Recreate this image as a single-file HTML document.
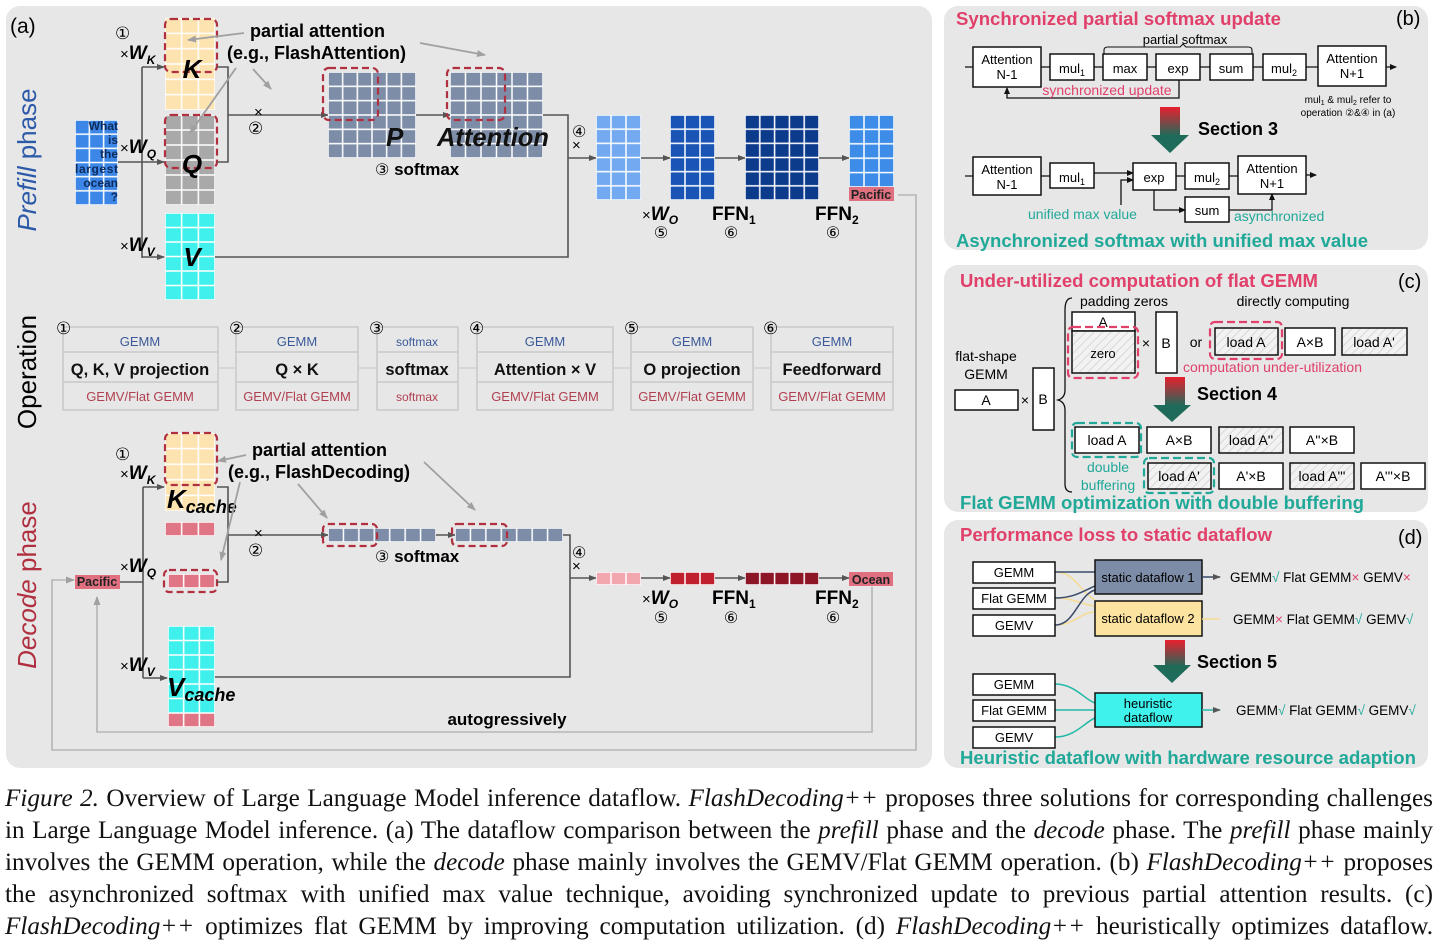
<!DOCTYPE html>
<html><head><meta charset="utf-8"><style>
body{margin:0;background:#fff;width:1440px;height:946px;overflow:hidden;position:relative;font-family:"Liberation Sans",sans-serif}
svg{position:absolute;left:0;top:0}
.cap{position:absolute;left:5px;top:783px;width:1428px;font-family:"Liberation Serif",serif;font-size:25.2px;line-height:32px;color:#111}
.cap div{white-space:nowrap;text-align:justify;text-align-last:justify;width:1428px}
</style></head><body>
<svg width="1440" height="780" viewBox="0 0 1440 780" font-family="Liberation Sans, sans-serif">
<defs>
<marker id="ar" markerWidth="8" markerHeight="8" refX="7" refY="4" orient="auto" markerUnits="userSpaceOnUse"><path d="M0,1 L8,4 L0,7z" fill="#555"/></marker>
<marker id="ak" markerWidth="7" markerHeight="7" refX="6" refY="3.5" orient="auto" markerUnits="userSpaceOnUse"><path d="M0,0.5 L7,3.5 L0,6.5z" fill="#111"/></marker>
<marker id="ag" markerWidth="9" markerHeight="9" refX="8" refY="4.5" orient="auto" markerUnits="userSpaceOnUse"><path d="M0,1 L9,4.5 L0,8z" fill="#a0a0a0"/></marker>
<linearGradient id="rg" x1="0" y1="0" x2="0" y2="1"><stop offset="0" stop-color="#e8202e"/><stop offset="1" stop-color="#1e6b5a"/></linearGradient>
<pattern id="hat" width="6" height="6" patternUnits="userSpaceOnUse" patternTransform="rotate(45)"><rect width="6" height="6" fill="#f2f2f2"/><line x1="0" y1="0" x2="0" y2="6" stroke="#cfcfcf" stroke-width="1.5"/></pattern>
<pattern id="pin" x="75" y="120" width="14.33" height="14.17" patternUnits="userSpaceOnUse"><rect width="14.33" height="14.17" fill="#3b86e6" stroke="#fff" stroke-width="1.5"/></pattern>
<pattern id="pk" x="165" y="18" width="16.67" height="15.33" patternUnits="userSpaceOnUse"><rect width="16.67" height="15.33" fill="#fde3b0" stroke="#fff" stroke-width="1.5"/></pattern>
<pattern id="pq" x="165" y="115" width="16.67" height="15" patternUnits="userSpaceOnUse"><rect width="16.67" height="15" fill="#a9a9a9" stroke="#fff" stroke-width="1.5"/></pattern>
<pattern id="pv" x="165" y="213" width="16.67" height="14.5" patternUnits="userSpaceOnUse"><rect width="16.67" height="14.5" fill="#40f0ec" stroke="#fff" stroke-width="1.5"/></pattern>
<pattern id="pp" x="328" y="72" width="14.67" height="14.33" patternUnits="userSpaceOnUse"><rect width="14.67" height="14.33" fill="#7d8da8" stroke="#fff" stroke-width="1.5"/></pattern>
<pattern id="pa" x="450" y="72" width="15.5" height="14.33" patternUnits="userSpaceOnUse"><rect width="15.5" height="14.33" fill="#7d8da8" stroke="#fff" stroke-width="1.5"/></pattern>
<pattern id="g1" x="596" y="115" width="15" height="14.17" patternUnits="userSpaceOnUse"><rect width="15" height="14.17" fill="#72a9f0" stroke="#fff" stroke-width="1.5"/></pattern>
<pattern id="g2" x="670" y="115" width="15" height="14.17" patternUnits="userSpaceOnUse"><rect width="15" height="14.17" fill="#1a55b5" stroke="#fff" stroke-width="1.5"/></pattern>
<pattern id="g3" x="745" y="115" width="14.8" height="14.17" patternUnits="userSpaceOnUse"><rect width="14.8" height="14.17" fill="#0d3b8c" stroke="#fff" stroke-width="1.5"/></pattern>
<pattern id="g4" x="849" y="115" width="15" height="14.4" patternUnits="userSpaceOnUse"><rect width="15" height="14.4" fill="#3d8ce8" stroke="#fff" stroke-width="1.5"/></pattern>
<pattern id="kc" x="165" y="433" width="16.67" height="15.6" patternUnits="userSpaceOnUse"><rect width="16.67" height="15.6" fill="#fde3b0" stroke="#fff" stroke-width="1.5"/></pattern>
<pattern id="rr" x="165" y="522" width="16.67" height="14" patternUnits="userSpaceOnUse"><rect width="16.67" height="14" fill="#e07585" stroke="#fff" stroke-width="1.5"/></pattern>
<pattern id="rq" x="168" y="574" width="15.67" height="14" patternUnits="userSpaceOnUse"><rect width="15.67" height="14" fill="#e07585" stroke="#fff" stroke-width="1.5"/></pattern>
<pattern id="vc" x="168" y="626" width="15.67" height="14.5" patternUnits="userSpaceOnUse"><rect width="15.67" height="14.5" fill="#40f0ec" stroke="#fff" stroke-width="1.5"/></pattern>
<pattern id="rv" x="168" y="713" width="15.67" height="14" patternUnits="userSpaceOnUse"><rect width="15.67" height="14" fill="#e07585" stroke="#fff" stroke-width="1.5"/></pattern>
<pattern id="b1" x="328" y="528" width="15.43" height="14" patternUnits="userSpaceOnUse"><rect width="15.43" height="14" fill="#7d8da8" stroke="#fff" stroke-width="1.5"/></pattern>
<pattern id="b2" x="455" y="528" width="15.43" height="14" patternUnits="userSpaceOnUse"><rect width="15.43" height="14" fill="#7d8da8" stroke="#fff" stroke-width="1.5"/></pattern>
<pattern id="d1" x="596" y="572" width="15" height="13" patternUnits="userSpaceOnUse"><rect width="15" height="13" fill="#f2a6ae" stroke="#fff" stroke-width="1.5"/></pattern>
<pattern id="d2" x="670" y="572" width="15" height="13" patternUnits="userSpaceOnUse"><rect width="15" height="13" fill="#c0202e" stroke="#fff" stroke-width="1.5"/></pattern>
<pattern id="d3" x="745" y="572" width="14.8" height="13" patternUnits="userSpaceOnUse"><rect width="14.8" height="13" fill="#8c1526" stroke="#fff" stroke-width="1.5"/></pattern>
</defs>

<rect x="6" y="6" width="926" height="762" rx="14" fill="#e7e7e7"/>
<rect x="944" y="6" width="484" height="244" rx="14" fill="#e7e7e7"/>
<rect x="944" y="265" width="484" height="247" rx="14" fill="#e7e7e7"/>
<rect x="944" y="520" width="484" height="248" rx="14" fill="#e7e7e7"/>

<!-- ===== (a) prefill ===== -->
<text x="10" y="33" font-size="21">(a)</text>
<text transform="translate(36,160) rotate(-90)" text-anchor="middle" font-size="26" fill="#2c5aa8"><tspan font-style="italic">Prefill</tspan> phase</text>
<rect x="75" y="120" width="43" height="85" fill="url(#pin)"/>
<g font-size="12" font-weight="bold" fill="#0d2a5a" text-anchor="end">
<text x="118" y="130">What</text><text x="118" y="144">is</text><text x="118" y="158">the</text><text x="118" y="173" textLength="43">largest</text><text x="118" y="187">ocean</text><text x="118" y="201">?</text></g>
<rect x="165" y="18" width="50" height="92" fill="url(#pk)"/>
<rect x="165" y="115" width="50" height="90" fill="url(#pq)"/>
<rect x="165" y="213" width="50" height="87" fill="url(#pv)"/>
<rect x="165" y="19" width="52" height="53" rx="6" fill="none" stroke="#b03040" stroke-width="2.2" stroke-dasharray="7,4"/>
<rect x="165" y="115" width="52" height="53" rx="6" fill="none" stroke="#b03040" stroke-width="2.2" stroke-dasharray="7,4"/>
<g font-weight="bold" font-style="italic" font-size="26" text-anchor="middle"><text x="192" y="78">K</text><text x="192" y="173">Q</text><text x="192" y="266">V</text></g>
<g stroke="#555" stroke-width="1.6" fill="none">
<path d="M118,162 H142 M142,67 V258"/>
<path d="M142,67 H164" marker-end="url(#ar)"/><path d="M142,162 H164" marker-end="url(#ar)"/><path d="M142,257 H164" marker-end="url(#ar)"/>
<path d="M217,67 H228 V162 H217"/>
<path d="M228,115 H328" marker-end="url(#ar)"/>
<path d="M543,115 H568 V257 H215"/>
<path d="M416,115 H450" marker-end="url(#ar)"/>
<path d="M568,158 H596" marker-end="url(#ar)"/>
<path d="M641,158 H670" marker-end="url(#ar)"/><path d="M715,158 H745" marker-end="url(#ar)"/><path d="M819,158 H849" marker-end="url(#ar)"/>
</g>
<g font-size="17"><text x="115" y="39">①</text>
<text x="120" y="59" font-size="15">×<tspan font-weight="bold" font-style="italic" font-size="19">W</tspan><tspan font-size="12" dy="5" font-weight="bold" font-style="italic">K</tspan></text>
<text x="120" y="153" font-size="15">×<tspan font-weight="bold" font-style="italic" font-size="19">W</tspan><tspan font-size="12" dy="5" font-weight="bold" font-style="italic">Q</tspan></text>
<text x="120" y="251" font-size="15">×<tspan font-weight="bold" font-style="italic" font-size="19">W</tspan><tspan font-size="12" dy="5" font-weight="bold" font-style="italic">V</tspan></text>
<text x="254" y="117" font-size="15">×</text><text x="248" y="134">②</text></g>
<rect x="328" y="72" width="88" height="86" fill="url(#pp)"/>
<rect x="450" y="72" width="93" height="86" fill="url(#pa)"/>
<rect x="323" y="68" width="55" height="52" rx="6" fill="none" stroke="#b03040" stroke-width="2.2" stroke-dasharray="7,4"/>
<rect x="447" y="68" width="58" height="52" rx="6" fill="none" stroke="#b03040" stroke-width="2.2" stroke-dasharray="7,4"/>
<g font-weight="bold" font-style="italic" font-size="26" fill="#111"><text x="386" y="146">P</text><text x="437" y="146" textLength="112" lengthAdjust="spacingAndGlyphs">Attention</text></g>
<text x="375" y="175" font-size="17"><tspan font-size="16">③</tspan> <tspan font-weight="bold">softmax</tspan></text>
<text x="250" y="37" font-size="18" font-weight="bold">partial attention</text>
<text x="227" y="59" font-size="18" font-weight="bold">(e.g., FlashAttention)</text>
<g stroke="#a0a0a0" stroke-width="1.8" fill="none">
<path d="M244,33 L188,40" marker-end="url(#ag)"/><path d="M236,68 L190,133" marker-end="url(#ag)"/><path d="M253,69 L271,89" marker-end="url(#ag)"/><path d="M420,43 L485,55" marker-end="url(#ag)"/>
</g>
<text x="572" y="137" font-size="16">④</text><text x="572" y="150" font-size="15">×</text>
<rect x="596" y="115" width="45" height="85" fill="url(#g1)"/>
<rect x="670" y="115" width="45" height="85" fill="url(#g2)"/>
<rect x="745" y="115" width="74" height="85" fill="url(#g3)"/>
<rect x="849" y="115" width="45" height="72" fill="url(#g4)"/>
<rect x="849" y="187" width="45" height="14" fill="#e07080"/>
<text x="871" y="199" font-size="12.5" font-weight="bold" text-anchor="middle" fill="#222">Pacific</text>
<g font-size="19" font-weight="bold">
<text x="642" y="220"><tspan font-size="15" font-weight="normal">×</tspan><tspan font-style="italic">W</tspan><tspan font-size="12" dy="4" font-style="italic">O</tspan></text>
<text x="712" y="220">FFN<tspan font-size="12" dy="4">1</tspan></text>
<text x="815" y="220">FFN<tspan font-size="12" dy="4">2</tspan></text></g>
<g font-size="16" text-anchor="middle"><text x="661" y="238">⑤</text><text x="731" y="238">⑥</text><text x="833" y="238">⑥</text></g>
<path d="M898,195 H916 V750 H52 V580 H74" stroke="#b5b5b5" stroke-width="1.6" fill="none" marker-end="url(#ag)"/>

<!-- operation row -->
<text transform="translate(36,372) rotate(-90)" text-anchor="middle" font-size="26">Operation</text>
<g stroke="#c9c9c9" stroke-width="1.5" fill="none">
<rect x="63" y="327" width="155" height="83"/><path d="M63,352H218M63,382H218"/>
<rect x="236" y="327" width="122" height="83"/><path d="M236,352H358M236,382H358"/>
<rect x="377" y="327" width="81" height="83"/><path d="M377,352H458M377,382H458"/>
<rect x="477" y="327" width="136" height="83"/><path d="M477,352H613M477,382H613"/>
<rect x="631" y="327" width="122" height="83"/><path d="M631,352H753M631,382H753"/>
<rect x="771" y="327" width="122" height="83"/><path d="M771,352H893M771,382H893"/>
<path d="M218,368H236M358,368H377M458,368H477M613,368H631M753,368H771" stroke="#d0d0d0"/>
</g>
<g font-size="17"><text x="56" y="334">①</text><text x="229" y="334">②</text><text x="369" y="334">③</text><text x="469" y="334">④</text><text x="624" y="334">⑤</text><text x="763" y="334">⑥</text></g>
<g text-anchor="middle" font-size="13" fill="#3a5a9a">
<text x="140" y="346">GEMM</text><text x="297" y="346">GEMM</text><text x="417" y="346" font-size="12">softmax</text><text x="545" y="346">GEMM</text><text x="692" y="346">GEMM</text><text x="832" y="346">GEMM</text></g>
<g text-anchor="middle" font-size="16.5" font-weight="bold" fill="#111">
<text x="140" y="375">Q, K, V projection</text><text x="297" y="375">Q × K</text><text x="417" y="375">softmax</text><text x="545" y="375">Attention × V</text><text x="692" y="375">O projection</text><text x="832" y="375">Feedforward</text></g>
<g text-anchor="middle" font-size="13" fill="#b04050">
<text x="140" y="401">GEMV/Flat GEMM</text><text x="297" y="401">GEMV/Flat GEMM</text><text x="417" y="401" font-size="12">softmax</text><text x="545" y="401">GEMV/Flat GEMM</text><text x="692" y="401">GEMV/Flat GEMM</text><text x="832" y="401">GEMV/Flat GEMM</text></g>

<!-- ===== decode ===== -->
<text transform="translate(36,585) rotate(-90)" text-anchor="middle" font-size="26" fill="#b03040"><tspan font-style="italic">Decode</tspan> phase</text>
<rect x="165" y="433" width="50" height="78" fill="url(#kc)"/>
<rect x="165" y="522" width="50" height="14" fill="url(#rr)"/>
<rect x="165" y="433" width="52" height="52" rx="6" fill="none" stroke="#b03040" stroke-width="2.2" stroke-dasharray="7,4"/>
<rect x="168" y="574" width="47" height="14" fill="url(#rq)"/>
<rect x="164" y="570" width="53" height="22" rx="5" fill="none" stroke="#b03040" stroke-width="2.2" stroke-dasharray="7,4"/>
<rect x="168" y="626" width="47" height="87" fill="url(#vc)"/>
<rect x="168" y="713" width="47" height="14" fill="url(#rv)"/>
<text x="167" y="508" font-weight="bold" font-style="italic" font-size="26">K<tspan font-size="18" dy="5">cache</tspan></text>
<text x="167" y="696" font-weight="bold" font-style="italic" font-size="26">V<tspan font-size="18" dy="5">cache</tspan></text>
<rect x="75" y="575" width="45" height="14" fill="#e07080"/>
<text x="97" y="586" font-size="12.5" font-weight="bold" text-anchor="middle" fill="#222">Pacific</text>
<g stroke="#555" stroke-width="1.6" fill="none">
<path d="M120,582 H143 M143,487 V678"/>
<path d="M143,487 H164" marker-end="url(#ar)"/><path d="M143,678 H167" marker-end="url(#ar)"/>
<path d="M217,487 H228 V582 H217"/>
<path d="M228,535 H328" marker-end="url(#ar)"/>
<path d="M436,535 H455" marker-end="url(#ar)"/>
<path d="M563,535 H570 V677 H215"/>
<path d="M570,578 H596" marker-end="url(#ar)"/>
<path d="M641,578 H670" marker-end="url(#ar)"/><path d="M715,578 H745" marker-end="url(#ar)"/><path d="M819,578 H849" marker-end="url(#ar)"/>
</g>
<rect x="328" y="528" width="108" height="14" fill="url(#b1)"/>
<rect x="455" y="528" width="108" height="14" fill="url(#b2)"/>
<rect x="323" y="524" width="54" height="22" rx="5" fill="none" stroke="#b03040" stroke-width="2.2" stroke-dasharray="7,4"/>
<rect x="452" y="524" width="55" height="22" rx="5" fill="none" stroke="#b03040" stroke-width="2.2" stroke-dasharray="7,4"/>
<g font-size="17"><text x="115" y="460">①</text>
<text x="120" y="479" font-size="15">×<tspan font-weight="bold" font-style="italic" font-size="19">W</tspan><tspan font-size="12" dy="5" font-weight="bold" font-style="italic">K</tspan></text>
<text x="120" y="572" font-size="15">×<tspan font-weight="bold" font-style="italic" font-size="19">W</tspan><tspan font-size="12" dy="5" font-weight="bold" font-style="italic">Q</tspan></text>
<text x="120" y="671" font-size="15">×<tspan font-weight="bold" font-style="italic" font-size="19">W</tspan><tspan font-size="12" dy="5" font-weight="bold" font-style="italic">V</tspan></text>
<text x="254" y="538" font-size="15">×</text><text x="248" y="556">②</text></g>
<text x="375" y="562" font-size="17"><tspan font-size="16">③</tspan> <tspan font-weight="bold">softmax</tspan></text>
<text x="252" y="456" font-size="18" font-weight="bold">partial attention</text>
<text x="228" y="478" font-size="18" font-weight="bold">(e.g., FlashDecoding)</text>
<g stroke="#a0a0a0" stroke-width="1.8" fill="none">
<path d="M246,455 L218,461" marker-end="url(#ag)"/><path d="M240,482 L221,560" marker-end="url(#ag)"/><path d="M298,484 L327,518" marker-end="url(#ag)"/><path d="M424,462 L475,510" marker-end="url(#ag)"/>
</g>
<text x="572" y="558" font-size="16">④</text><text x="572" y="571" font-size="15">×</text>
<rect x="596" y="572" width="45" height="13" fill="url(#d1)"/>
<rect x="670" y="572" width="45" height="13" fill="url(#d2)"/>
<rect x="745" y="572" width="74" height="13" fill="url(#d3)"/>
<rect x="849" y="572" width="44" height="14" fill="#e07080"/>
<text x="871" y="584" font-size="12.5" font-weight="bold" text-anchor="middle" fill="#222">Ocean</text>
<g font-size="19" font-weight="bold">
<text x="642" y="604"><tspan font-size="15" font-weight="normal">×</tspan><tspan font-style="italic">W</tspan><tspan font-size="12" dy="4" font-style="italic">O</tspan></text>
<text x="712" y="604">FFN<tspan font-size="12" dy="4">1</tspan></text>
<text x="815" y="604">FFN<tspan font-size="12" dy="4">2</tspan></text></g>
<g font-size="16" text-anchor="middle"><text x="661" y="623">⑤</text><text x="731" y="623">⑥</text><text x="833" y="623">⑥</text></g>
<path d="M872,587 V732 H97 V597" stroke="#b5b5b5" stroke-width="1.6" fill="none" marker-end="url(#ag)"/>
<text x="507" y="725" font-size="17" font-weight="bold" text-anchor="middle">autogressively</text>

<!-- ===== (b) ===== -->
<text x="956" y="25" font-size="18.5" font-weight="bold" fill="#e0406a" textLength="325" lengthAdjust="spacingAndGlyphs">Synchronized partial softmax update</text>
<text x="1396" y="25" font-size="20">(b)</text>
<g fill="#fff" stroke="#111" stroke-width="1.5">
<rect x="973" y="47" width="68" height="40"/><rect x="1050" y="54" width="44" height="26"/><rect x="1103" y="54" width="44" height="26"/><rect x="1156" y="54" width="44" height="26"/><rect x="1210" y="54" width="43" height="26"/><rect x="1263" y="54" width="43" height="26"/><rect x="1318" y="46" width="68" height="40"/>
<rect x="973" y="157" width="68" height="38"/><rect x="1050" y="163" width="44" height="25"/><rect x="1133" y="163" width="43" height="27"/><rect x="1185" y="163" width="44" height="26"/><rect x="1238" y="156" width="68" height="38"/><rect x="1185" y="197" width="44" height="25"/>
</g>
<g font-size="13" text-anchor="middle">
<text x="1007" y="64">Attention</text><text x="1007" y="79">N-1</text>
<text x="1072" y="73">mul<tspan font-size="9" dy="3">1</tspan></text><text x="1125" y="73">max</text><text x="1178" y="73">exp</text><text x="1231" y="73">sum</text><text x="1284" y="73">mul<tspan font-size="9" dy="3">2</tspan></text>
<text x="1352" y="63">Attention</text><text x="1352" y="78">N+1</text>
<text x="1007" y="174">Attention</text><text x="1007" y="189">N-1</text>
<text x="1072" y="182">mul<tspan font-size="9" dy="3">1</tspan></text><text x="1154" y="182">exp</text><text x="1207" y="182">mul<tspan font-size="9" dy="3">2</tspan></text>
<text x="1272" y="173">Attention</text><text x="1272" y="188">N+1</text><text x="1207" y="215">sum</text>
<text x="1185" y="44">partial softmax</text>
</g>
<g stroke="#111" stroke-width="1.3" fill="none">
<path d="M965,67H973M1041,67H1050M1094,67H1103M1147,67H1156M1200,67H1210M1253,67H1263M1306,67H1318M1386,67H1396" marker-end="url(#ak)"/>
<path d="M1104,54 V50 Q1104,47 1108,47 H1180 L1183,44 L1186,47 H1248 Q1252,47 1252,50 V54" stroke-width="1.1"/>
<path d="M1179,80 V98 H1007 V88" marker-end="url(#ak)"/>
<path d="M965,176H973M1041,176H1050M1176,176H1185M1229,176H1238M1306,175H1316" marker-end="url(#ak)"/>
<path d="M1094,173 H1133" marker-end="url(#ak)"/>
<path d="M1121,205 V180 H1133" marker-end="url(#ak)"/>
<path d="M1154,190 V210 H1185" marker-end="url(#ak)"/>
<path d="M1229,210 H1272 V194" marker-end="url(#ak)"/>
</g>
<text x="1107" y="95" font-size="14" text-anchor="middle" fill="#e0406a">synchronized update</text>
<text x="1348" y="103" font-size="10" text-anchor="middle">mul<tspan font-size="7" dy="2">1</tspan><tspan dy="-2"> &amp; mul</tspan><tspan font-size="7" dy="2">2</tspan><tspan dy="-2"> refer to</tspan></text>
<text x="1348" y="116" font-size="10" text-anchor="middle">operation ②&amp;④ in (a)</text>
<rect x="1160" y="107" width="20" height="29" fill="url(#rg)"/><path d="M1151,135 H1189 L1170,153z" fill="#1e6b5a"/>
<text x="1198" y="135" font-size="18" font-weight="bold">Section 3</text>
<text x="1028" y="219" font-size="14" fill="#20a898">unified max value</text>
<text x="1234" y="221" font-size="14" fill="#20a898">asynchronized</text>
<text x="956" y="247" font-size="18.5" font-weight="bold" fill="#20a898" textLength="412" lengthAdjust="spacingAndGlyphs">Asynchronized softmax with unified max value</text>

<!-- ===== (c) ===== -->
<text x="960" y="287" font-size="18.5" font-weight="bold" fill="#e0406a" textLength="358" lengthAdjust="spacingAndGlyphs">Under-utilized computation of flat GEMM</text>
<text x="1398" y="288" font-size="20">(c)</text>
<text x="986" y="361" font-size="14" text-anchor="middle">flat-shape</text><text x="986" y="379" font-size="14" text-anchor="middle">GEMM</text>
<g stroke="#111" stroke-width="1.5" fill="#fff">
<rect x="955" y="390" width="63" height="20"/><rect x="1033" y="368" width="21" height="62"/>
<rect x="1072" y="312" width="63" height="19"/><rect x="1072" y="331" width="63" height="42" fill="url(#hat)"/><rect x="1156" y="312" width="21" height="61"/>
<rect x="1215" y="328" width="63" height="27" fill="url(#hat)"/><rect x="1285" y="328" width="50" height="27"/><rect x="1342" y="328" width="65" height="27" fill="url(#hat)"/>
<rect x="1075" y="427" width="64" height="26"/><rect x="1147" y="427" width="64" height="26"/><rect x="1219" y="427" width="64" height="26" fill="url(#hat)"/><rect x="1290" y="427" width="64" height="26"/>
<rect x="1148" y="463" width="63" height="26" fill="url(#hat)"/><rect x="1219" y="463" width="64" height="26"/><rect x="1290" y="463" width="64" height="26" fill="url(#hat)"/><rect x="1361" y="463" width="64" height="26"/>
</g>
<path d="M1072,298 Q1065,298 1065,310 V390 Q1065,398 1058,400 Q1065,402 1065,410 V484 Q1065,492 1072,492" stroke="#111" stroke-width="1.3" fill="none"/>
<g font-size="14" text-anchor="middle">
<text x="986" y="405">A</text><text x="1043" y="404">B</text><text x="1025" y="405">×</text>
<text x="1124" y="306">padding zeros</text><text x="1293" y="306">directly computing</text>
<text x="1103" y="327">A</text><text x="1103" y="358" font-size="13">zero</text><text x="1146" y="348">×</text><text x="1166" y="348">B</text><text x="1196" y="347">or</text>
<text x="1246" y="347">load A</text><text x="1310" y="347">A×B</text><text x="1374" y="347">load A'</text>
<text x="1107" y="445">load A</text><text x="1179" y="445">A×B</text><text x="1251" y="445">load A''</text><text x="1322" y="445">A''×B</text>
<text x="1179" y="481">load A'</text><text x="1251" y="481">A'×B</text><text x="1322" y="481">load A'''</text><text x="1393" y="481">A'''×B</text>
</g>
<rect x="1068" y="327" width="70" height="51" rx="5" fill="none" stroke="#e0406a" stroke-width="2.2" stroke-dasharray="8,4"/>
<rect x="1210" y="322" width="72" height="37" rx="5" fill="none" stroke="#e0406a" stroke-width="2.2" stroke-dasharray="8,4"/>
<text x="1183" y="372" font-size="14" fill="#e0406a">computation under-utilization</text>
<rect x="1165" y="377" width="20" height="29" fill="url(#rg)"/><path d="M1153,405 H1191 L1172,422z" fill="#1e6b5a"/>
<text x="1197" y="400" font-size="18" font-weight="bold">Section 4</text>
<rect x="1072" y="423" width="69" height="34" rx="5" fill="none" stroke="#20a898" stroke-width="2.2" stroke-dasharray="8,4"/>
<rect x="1144" y="458" width="70" height="35" rx="5" fill="none" stroke="#20a898" stroke-width="2.2" stroke-dasharray="8,4"/>
<text x="1108" y="472" font-size="14" text-anchor="middle" fill="#20a898">double</text>
<text x="1108" y="490" font-size="14" text-anchor="middle" fill="#20a898">buffering</text>
<text x="960" y="509" font-size="18.5" font-weight="bold" fill="#20a898" textLength="404" lengthAdjust="spacingAndGlyphs">Flat GEMM optimization with double buffering</text>

<!-- ===== (d) ===== -->
<text x="960" y="541" font-size="18.5" font-weight="bold" fill="#e0406a" textLength="312" lengthAdjust="spacingAndGlyphs">Performance loss to static dataflow</text>
<text x="1398" y="544" font-size="20">(d)</text>
<g fill="none" stroke-width="1.5">
<path d="M1055,572 C1075,572 1080,592 1095,600" stroke="#f5dc90"/><path d="M1055,625 C1075,625 1080,612 1095,612" stroke="#f5dc90"/><path d="M1055,598 C1075,598 1082,605 1095,606" stroke="#f5dc90"/>
<path d="M1055,572 H1095" stroke="#3a4a6a"/><path d="M1055,598 C1075,598 1085,590 1095,586" stroke="#3a4a6a"/><path d="M1055,625 C1075,625 1078,595 1095,590" stroke="#3a4a6a"/>
<path d="M1055,684 C1075,684 1085,700 1095,703" stroke="#20b8a8"/><path d="M1055,710 H1095" stroke="#20b8a8"/><path d="M1055,737 C1075,737 1085,722 1095,718" stroke="#20b8a8"/>
</g>
<g stroke="#111" stroke-width="1.5" fill="#fff">
<rect x="973" y="562" width="82" height="21"/><rect x="973" y="588" width="82" height="21"/><rect x="973" y="615" width="82" height="21"/>
<rect x="973" y="674" width="82" height="21"/><rect x="973" y="700" width="82" height="21"/><rect x="973" y="727" width="82" height="21"/>
<rect x="1095" y="560" width="107" height="34" fill="#7d8da8"/><rect x="1095" y="601" width="107" height="35" fill="#fde3a0"/><rect x="1095" y="693" width="107" height="34" fill="#3ff2ec"/>
</g>
<g font-size="13" text-anchor="middle">
<text x="1014" y="577">GEMM</text><text x="1014" y="603">Flat GEMM</text><text x="1014" y="630">GEMV</text>
<text x="1014" y="689">GEMM</text><text x="1014" y="715">Flat GEMM</text><text x="1014" y="742">GEMV</text>
<text x="1148" y="582">static dataflow 1</text><text x="1148" y="623">static dataflow 2</text>
<text x="1148" y="708">heuristic</text><text x="1148" y="722">dataflow</text></g>
<path d="M1202,577 H1220" stroke="#3a4a6a" stroke-width="1.5" marker-end="url(#ar)"/>
<path d="M1202,619 H1220" stroke="#f5dc90" stroke-width="1.5"/>
<path d="M1202,710 H1220" stroke="#20b8a8" stroke-width="1.5" marker-end="url(#ar)"/>
<g font-size="13.5">
<text x="1230" y="582">GEMM<tspan fill="#20a898">√</tspan> Flat GEMM<tspan fill="#e0406a">×</tspan> GEMV<tspan fill="#e0406a">×</tspan></text>
<text x="1233" y="624">GEMM<tspan fill="#e0406a">×</tspan> Flat GEMM<tspan fill="#20a898">√</tspan> GEMV<tspan fill="#20a898">√</tspan></text>
<text x="1236" y="715">GEMM<tspan fill="#20a898">√</tspan> Flat GEMM<tspan fill="#20a898">√</tspan> GEMV<tspan fill="#20a898">√</tspan></text></g>
<rect x="1165" y="640" width="20" height="27" fill="url(#rg)"/><path d="M1153,665 H1191 L1172,683z" fill="#1e6b5a"/>
<text x="1197" y="668" font-size="18" font-weight="bold">Section 5</text>
<text x="960" y="764" font-size="18.5" font-weight="bold" fill="#20a898" textLength="456" lengthAdjust="spacingAndGlyphs">Heuristic dataflow with hardware resource adaption</text>
</svg>
<div class="cap">
<div><i>Figure 2.</i> Overview of Large Language Model inference dataflow. <i>FlashDecoding++</i> proposes three solutions for corresponding challenges</div>
<div>in Large Language Model inference. (a) The dataflow comparison between the <i>prefill</i> phase and the <i>decode</i> phase. The <i>prefill</i> phase mainly</div>
<div>involves the GEMM operation, while the <i>decode</i> phase mainly involves the GEMV/Flat GEMM operation. (b) <i>FlashDecoding++</i> proposes</div>
<div>the asynchronized softmax with unified max value technique, avoiding synchronized update to previous partial attention results. (c)</div>
<div><i>FlashDecoding++</i> optimizes flat GEMM by improving computation utilization. (d) <i>FlashDecoding++</i> heuristically optimizes dataflow.</div>
</div>
</body></html>
